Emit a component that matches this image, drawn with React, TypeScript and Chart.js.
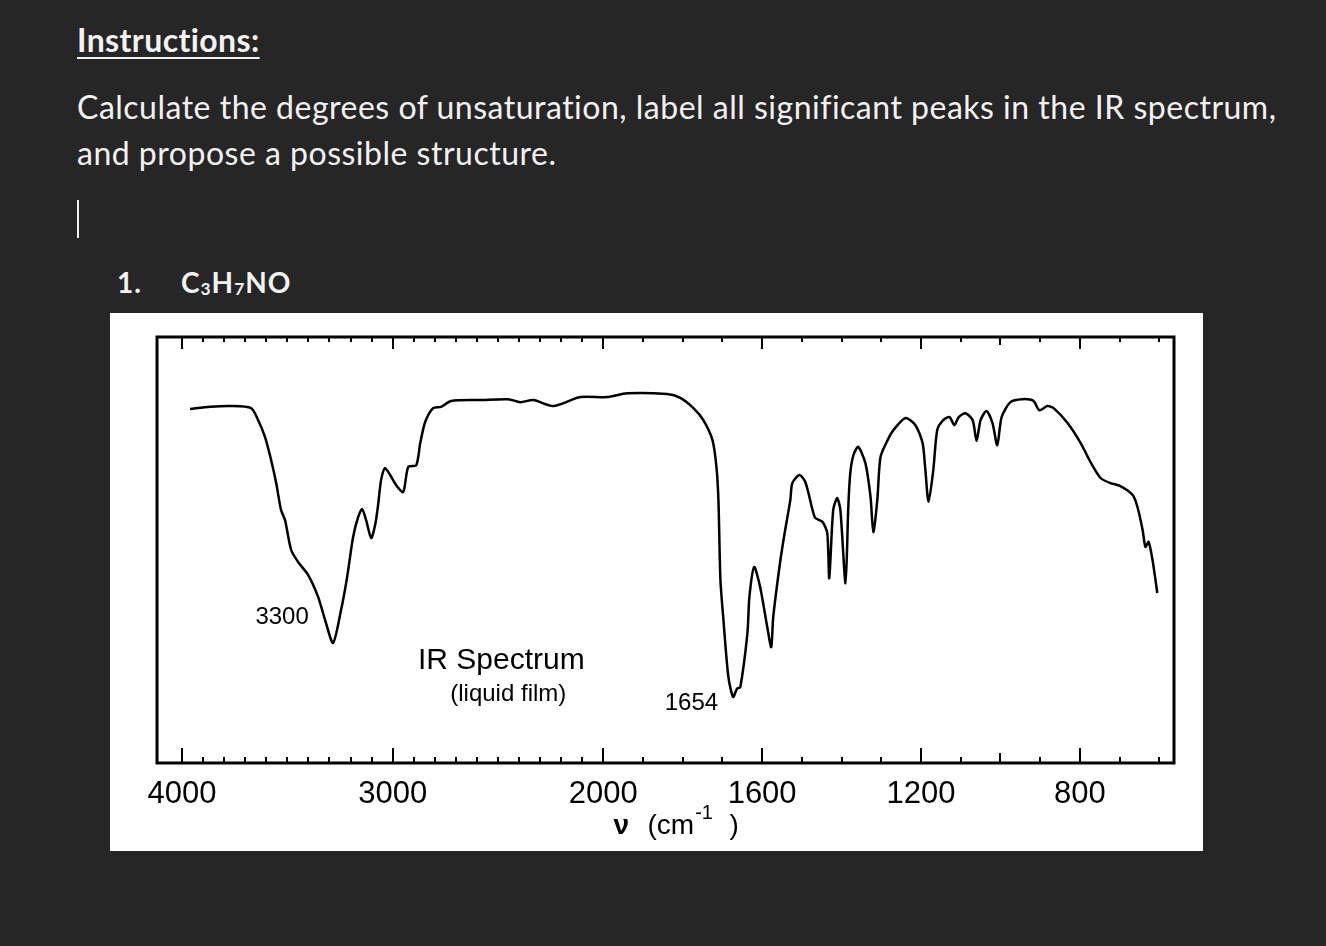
import React, { useEffect, useRef } from 'react';
import { Chart, registerables, LinearScale } from 'chart.js';

// ---- data ----
const WAVENUMBERS = [
  3962, 3867, 3772, 3672, 3639, 3606, 3577, 3553, 3530, 3511,
  3482, 3449, 3401, 3354, 3321, 3283, 3245, 3216, 3188, 3164,
  3145, 3126, 3102, 3083, 3069, 3055, 3036, 3012, 2983, 2950,
  2926, 2888, 2869, 2846, 2808, 2770, 2722, 2584, 2451, 2394,
  2332, 2237, 2109, 1990, 1940, 1839, 1806, 1773, 1748, 1725,
  1715, 1710, 1705, 1698, 1685, 1673, 1663, 1655, 1637, 1632,
  1620, 1605, 1587, 1577, 1572, 1554, 1542, 1529, 1524, 1506,
  1491, 1473, 1466, 1448, 1436, 1431, 1421, 1411, 1403, 1390,
  1383, 1378, 1370, 1358, 1340, 1327, 1320, 1310, 1302, 1284,
  1269, 1239, 1214, 1196, 1189, 1181, 1169, 1159, 1144, 1128,
  1116, 1105, 1088, 1070, 1060, 1050, 1035, 1020, 1008, 997,
  975, 945, 917, 902, 882, 866, 831, 798, 773, 748,
  723, 698, 667, 655, 642, 635, 627, 617, 605,
];

const TRANSMITTANCE = [
  83.1, 83.6, 83.8, 83.3, 80.5, 76.5, 71.1, 65.7, 59.4, 57.0,
  50.0, 47.2, 44.1, 39.0, 33.6, 28.2, 35.9, 43.7, 53.0, 57.7,
  59.6, 57.0, 52.8, 55.9, 60.6, 66.4, 69.2, 67.6, 65.2, 63.6,
  69.5, 69.9, 75.1, 80.0, 83.3, 83.6, 85.0, 85.2, 85.4, 84.7,
  85.2, 83.8, 85.9, 85.9, 86.8, 86.6, 85.7, 83.3, 80.5, 75.8,
  69.5, 61.7, 43.0, 34.3, 20.2, 15.5, 17.5, 17.8, 30.5, 39.0,
  46.0, 41.3, 31.9, 27.2, 34.3, 47.6, 54.7, 61.7, 65.7, 67.6,
  65.9, 59.4, 57.5, 56.6, 54.0, 43.4, 59.4, 62.2, 59.4, 42.2,
  60.1, 68.1, 72.3, 74.2, 70.4, 62.4, 54.2, 61.7, 71.8, 75.8,
  78.2, 81.0, 79.3, 75.1, 68.8, 61.3, 68.8, 78.2, 80.5, 81.2,
  79.3, 81.2, 82.1, 80.5, 75.6, 80.5, 82.6, 79.8, 74.6, 81.2,
  84.7, 85.4, 85.0, 82.8, 83.8, 83.3, 79.8, 75.1, 70.6, 66.9,
  65.7, 65.0, 62.9, 60.1, 54.7, 50.7, 51.9, 47.6, 39.9,
];

const TICK_LABELS = [4000, 3000, 2000, 1600, 1200, 800];
const MEDIUM_TICKS = [1000];
const MINOR_TICKS = [
  4000, 3900, 3800, 3700, 3600, 3500, 3400, 3300, 3200, 3100,
  3000, 2900, 2800, 2700, 2600, 2500, 2400, 2300, 2200, 2100,
  2000, 1900, 1800, 1700, 1600, 1500, 1400, 1300, 1200, 1100,
  1000, 900, 800, 700, 600,
];

const X_MAX = 4119;
const X_MIN = 563;

const PEAK_LABELS = [
  { text: '3300', wn: 3525, t: 34.3 },
  { text: '1654', wn: 1778, t: 14.1 },
];
const TITLE_LINES = [
  { text: 'IR Spectrum', wn: 2484, t: 23.9, size: 30 },
  { text: '(liquid film)', wn: 2451, t: 16.2, size: 24 },
];

// ---- IR-style axis: wavenumbers below 2000 cm-1 get a stretched scale ----
const BREAK = 2000;
const HIGH_START = 4000;
const STRETCH = 1.886;
function warp(w: number) {
  return w >= BREAK ? HIGH_START - w : (HIGH_START - BREAK) + (BREAK - w) * STRETCH;
}
function unwarp(u: number) {
  return u <= HIGH_START - BREAK ? HIGH_START - u : BREAK - (u - (HIGH_START - BREAK)) / STRETCH;
}

class WavenumberScale extends LinearScale {
  static id = 'wavenumber';
  getPixelForValue(value: any) {
    if (value === null || value === undefined) return NaN;
    const a = warp(this.max);
    const b = warp(this.min);
    return this.getPixelForDecimal((warp(value) - a) / (b - a));
  }
  getValueForPixel(pixel: number) {
    const a = warp(this.max);
    const b = warp(this.min);
    return unwarp(a + this.getDecimalForPixel(pixel) * (b - a));
  }
}

Chart.register(...registerables, WavenumberScale as any);

const SANS = '"Liberation Sans", Arial, sans-serif';

const irDecor = {
  id: 'irDecor',
  afterDraw(chart: any) {
    const { ctx, chartArea: a, scales } = chart;
    const x = scales.x;
    const y = scales.y;
    ctx.save();
    ctx.strokeStyle = '#000';
    ctx.fillStyle = '#000';
    // frame
    ctx.lineWidth = 3;
    ctx.strokeRect(a.left, a.top, a.right - a.left, a.bottom - a.top);
    // inward ticks, top and bottom
    ctx.lineWidth = 2;
    MINOR_TICKS.forEach((v) => {
      const px = Math.round(x.getPixelForValue(v));
      const major = TICK_LABELS.includes(v);
      const medium = MEDIUM_TICKS.includes(v);
      const topLen = major ? 12 : medium ? 8 : 5;
      const botLen = major ? 15 : medium ? 10 : 6;
      ctx.beginPath();
      ctx.moveTo(px, a.top);
      ctx.lineTo(px, a.top + topLen);
      ctx.moveTo(px, a.bottom);
      ctx.lineTo(px, a.bottom - botLen);
      ctx.stroke();
    });
    // peak labels
    ctx.textAlign = 'center';
    ctx.textBaseline = 'middle';
    ctx.font = `24px ${SANS}`;
    PEAK_LABELS.forEach((p) => {
      ctx.fillText(p.text, x.getPixelForValue(p.wn), y.getPixelForValue(p.t));
    });
    TITLE_LINES.forEach((p) => {
      ctx.font = `${p.size}px ${SANS}`;
      ctx.fillText(p.text, x.getPixelForValue(p.wn), y.getPixelForValue(p.t));
    });
    // axis title: ν (cm-1)
    ctx.textAlign = 'left';
    ctx.textBaseline = 'alphabetic';
    const base = a.bottom + 71;
    const cx = (a.left + a.right) / 2;
    ctx.font = `bold 28px ${SANS}`;
    ctx.fillText('ν', cx - 52, base);
    ctx.font = `28px ${SANS}`;
    ctx.fillText('(cm', cx - 18, base);
    const cmW = ctx.measureText('(cm').width;
    ctx.font = `20px ${SANS}`;
    ctx.fillText('-1', cx - 17 + cmW, base - 15);
    ctx.font = `28px ${SANS}`;
    ctx.fillText(')', cx + 64, base);
    ctx.restore();
  },
};

export default function App() {
  const canvasRef = useRef<HTMLCanvasElement | null>(null);

  useEffect(() => {
    document.body.style.background = '#262626';
    const points = WAVENUMBERS.map((w, i) => ({ x: w, y: TRANSMITTANCE[i] }));
    const chart = new Chart(canvasRef.current as HTMLCanvasElement, {
      type: 'line',
      data: {
        datasets: [
          {
            data: points,
            borderColor: '#000',
            borderWidth: 2.5,
            pointRadius: 0,
            tension: 0.25,
            fill: false,
          },
        ],
      },
      options: {
        animation: false,
        responsive: false,
        events: [],
        layout: { padding: { left: 47, right: 29, top: 24, bottom: 0 } },
        plugins: { legend: { display: false }, tooltip: { enabled: false }, title: { display: false } },
        scales: {
          x: {
            type: 'wavenumber' as any,
            position: 'bottom',
            min: X_MIN,
            max: X_MAX,
            grid: { display: false, drawTicks: false },
            border: { display: false },
            afterBuildTicks: (scale: any) => {
              scale.ticks = TICK_LABELS.map((v) => ({ value: v }));
            },
            afterFit: (scale: any) => {
              scale.height = 88;
            },
            ticks: {
              autoSkip: false,
              maxRotation: 0,
              padding: 13,
              color: '#000',
              font: { family: SANS, size: 31 },
              callback: (v: any) => String(v),
            },
          },
          y: {
            display: false,
            min: 0,
            max: 100,
          },
        },
      },
      plugins: [irDecor],
    } as any);
    return () => chart.destroy();
  }, []);

  const textColor = '#f2f2f2';
  return (
    <div
      style={{
        position: 'absolute',
        left: 0,
        top: 0,
        width: 1326,
        height: 946,
        background: '#262626',
        overflow: 'hidden',
        fontFamily: 'Lato, "Open Sans", sans-serif',
        color: textColor,
      }}
    >
      <div
        style={{
          position: 'absolute',
          left: 77,
          top: 21,
          fontSize: 32,
          fontWeight: 700,
          lineHeight: '38px',
          letterSpacing: '0.4px',
          whiteSpace: 'nowrap',
          textDecoration: 'underline',
          textUnderlineOffset: '5px',
          textDecorationThickness: '2px',
        }}
      >
        Instructions:
      </div>
      <div
        style={{
          position: 'absolute',
          left: 77,
          top: 84,
          width: 1240,
          fontSize: 32,
          lineHeight: '46px',
          letterSpacing: '0.5px',
          whiteSpace: 'nowrap',
        }}
      >
        Calculate the degrees of unsaturation, label all significant peaks in the IR spectrum,
        <br />
        and propose a possible structure.
      </div>
      <div style={{ position: 'absolute', left: 77, top: 200, width: 1.5, height: 38, background: textColor }} />
      <div
        style={{
          position: 'absolute',
          left: 117,
          top: 265,
          fontSize: 28,
          fontWeight: 700,
          lineHeight: '34px',
          letterSpacing: '1px',
          whiteSpace: 'nowrap',
        }}
      >
        1.
      </div>
      <div
        style={{
          position: 'absolute',
          left: 181,
          top: 265,
          fontSize: 28,
          fontWeight: 700,
          lineHeight: '34px',
          letterSpacing: '1px',
          whiteSpace: 'nowrap',
        }}
      >
        C
        <span style={{ fontSize: '0.62em', position: 'relative', top: '0.12em' }}>3</span>
        H
        <span style={{ fontSize: '0.62em', position: 'relative', top: '0.12em' }}>7</span>
        NO
      </div>
      <div
        style={{
          position: 'absolute',
          left: 110,
          top: 313,
          width: 1093,
          height: 538,
          background: '#ffffff',
        }}
      >
        <canvas
          ref={canvasRef}
          width={1093}
          height={538}
          style={{ display: 'block', width: 1093, height: 538 }}
        />
      </div>
    </div>
  );
}
